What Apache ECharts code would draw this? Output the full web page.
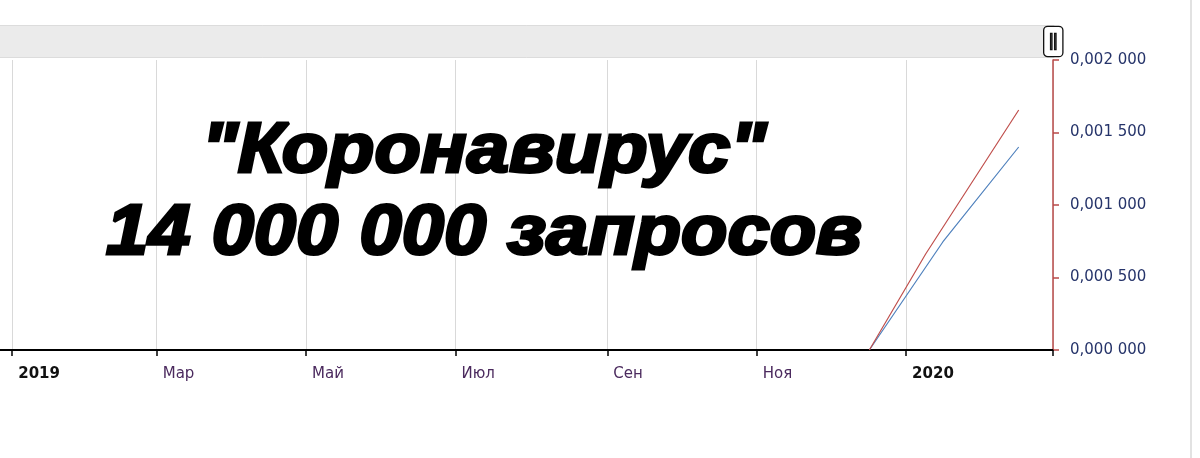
<!DOCTYPE html>
<html>
<head>
<meta charset="utf-8">
<script src="https://cdn.jsdelivr.net/npm/echarts@6/dist/echarts.min.js"></script>
<style>
html,body{margin:0;padding:0;background:#fff;}
#chart{width:1190px;height:458px;border-right:2px solid #e2e2e2;}
</style>
</head>
<body>
<div id="chart"></div>
<script>
// ---- data ----
var redDates   = ['2019-12-17', '2020-01-09', '2020-02-16'];
var redValues  = [0, 0.000662, 0.001655];
var blueDates  = ['2019-12-17', '2020-01-16', '2020-02-16'];
var blueValues = [0, 0.000745, 0.0014];
var monthNames = ['Янв','Фев','Мар','Апр','Май','Июн','Июл','Авг','Сен','Окт','Ноя','Дек'];
var yTicks = [0, 0.0005, 0.001, 0.0015, 0.002];
var axisMin = '2018-12-27';
var axisMax = '2020-03-01';
var headline = '"Коронавирус"\n14 000 000 запросов';

function pairs(d, v){ return d.map(function(x,i){ return [x, v[i]]; }); }
function fmtY(v){
  var s = v.toFixed(6).split('.');
  return s[0] + ',' + s[1].slice(0,3) + ' ' + s[1].slice(3);
}
var maxTs = new Date(axisMax).getTime();

var chart = echarts.init(document.getElementById('chart'), null, {renderer:'canvas'});
var FONT = '"DejaVu Sans", Verdana, sans-serif';
chart.setOption({
  animation:false,
  backgroundColor:'#fff',
  grid:{left:0, right:137, top:60, bottom:108, containLabel:false},
  dataZoom:[{
    type:'slider', xAxisIndex:0, start:0, end:100, filterMode:'none',
    left:-60, right:137, top:25, height:33,
    backgroundColor:'#ebebeb', borderColor:'#dcdcdc', borderRadius:0,
    fillerColor:'rgba(0,0,0,0)', showDetail:false, showDataShadow:false,
    brushSelect:false, moveHandleSize:0, realtime:false,
    dataBackground:{lineStyle:{opacity:0}, areaStyle:{opacity:0}},
    handleIcon:'path://M4,0 H15 A4,4 0 0 1 19,4 V26 A4,4 0 0 1 15,30 H4 A4,4 0 0 1 0,26 V4 A4,4 0 0 1 4,0 Z M6.8,7 H8.2 V23 H6.8 Z M10.8,7 H12.2 V23 H10.8 Z',
    handleSize:'92%',
    handleStyle:{color:'#fff', borderColor:'#111', borderWidth:1.3},
    emphasis:{handleStyle:{color:'#fff', borderColor:'#111'}}
  }],
  xAxis:{
    type:'time', min:axisMin, max:axisMax,
    minInterval: 75*86400000, maxInterval: 75*86400000,
    axisLine:{show:true, lineStyle:{color:'#000', width:2}},
    axisTick:{show:true, length:6, lineStyle:{color:'#000', width:1.5}},
    splitLine:{show:true, showMinLine:false, showMaxLine:false, lineStyle:{color:'#d9d9d9', width:1}},
    axisLabel:{
      showMaxLabel:false,
      align:'left', margin:17, padding:[0,0,0,6],
      formatter:function(val){
        if (val >= maxTs) return '';
        var d = new Date(val);
        if (d.getMonth() === 0) return '{y|' + d.getFullYear() + '}';
        return '{m|' + monthNames[d.getMonth()] + '}';
      },
      rich:{
        y:{fontFamily:FONT, fontSize:15, fontWeight:'bold', color:'#111'},
        m:{fontFamily:FONT, fontSize:15, color:'#4b2a5e'}
      }
    }
  },
  yAxis:{
    type:'value', position:'right', min:yTicks[0], max:yTicks[yTicks.length-1], interval:yTicks[1]-yTicks[0],
    axisLine:{show:true, lineStyle:{color:'#b94a48', width:1.5}},
    axisTick:{show:true, length:6, lineStyle:{color:'#b94a48', width:1.5}},
    splitLine:{show:false},
    axisLabel:{margin:17, color:'#26346a', fontFamily:FONT, fontSize:15, formatter:fmtY}
  },
  graphic:[{
    type:'text', x:484, y:194, z:100, scaleX:1.085,
    style:{
      text:headline, align:'center', verticalAlign:'middle',
      font:'italic 900 70px "Liberation Sans", Arial, sans-serif',
      lineHeight:82, fill:'#000', stroke:'#000', lineWidth:3
    }
  }],
  series:[
    {type:'line', name:'blue', data:pairs(blueDates, blueValues), showSymbol:false,
     lineStyle:{color:'#4f81bd', width:1.2}, itemStyle:{color:'#4f81bd'}},
    {type:'line', name:'red', data:pairs(redDates, redValues), showSymbol:false,
     lineStyle:{color:'#c0504d', width:1.2}, itemStyle:{color:'#c0504d'}}
  ]
});
</script>
</body>
</html>
